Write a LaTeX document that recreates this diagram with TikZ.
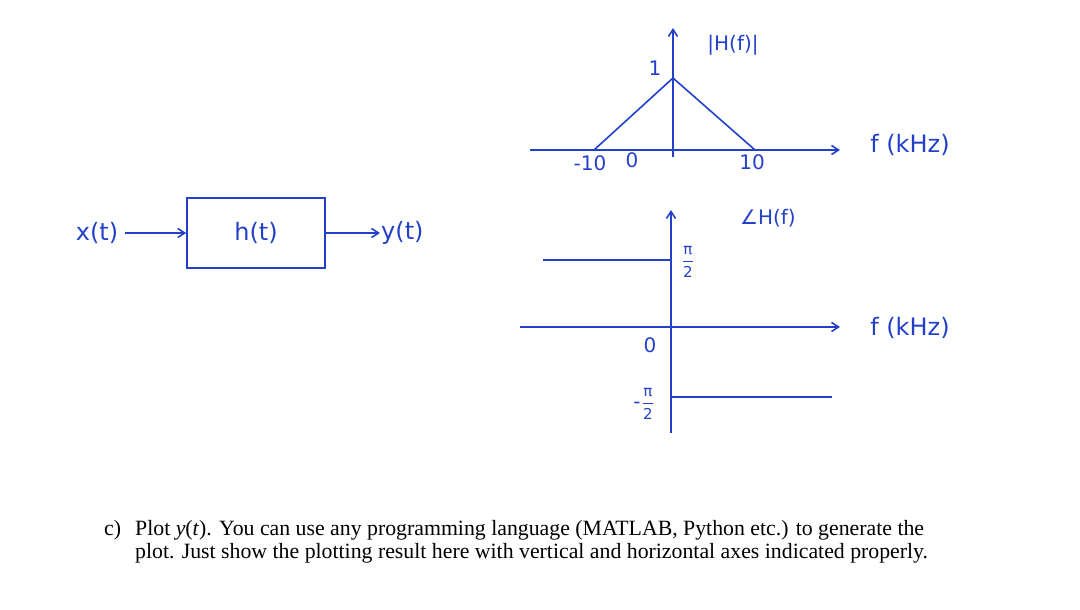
\documentclass[tikz,border=0pt]{standalone}
\usepackage{fontspec}
\setmainfont{Liberation Serif}
\newfontfamily\hand{DejaVu Sans}
\usetikzlibrary{arrows.meta}
\definecolor{ink}{RGB}{35,65,200}
\newcommand{\pihalf}{\begin{tabular}{@{}c@{}}π\\[-4pt]\rule[3pt]{10pt}{1.2pt}\\[-3pt]2\end{tabular}}
\begin{document}
\begin{tikzpicture}[x=1pt,y=-1pt,
  ln/.style={ink,line width=1.6pt},
  ax/.style={ink,line width=1.6pt,-{Straight Barb[length=7pt,width=9pt]}},
  lab/.style={ink,font=\hand\fontsize{20}{22}\selectfont,inner sep=1pt},
  big/.style={ink,font=\hand\fontsize{24}{26}\selectfont,inner sep=1pt},
  frac/.style={ink,font=\hand\fontsize{15}{15}\selectfont,inner sep=1pt},
  body/.style={font=\fontsize{21.8}{26}\selectfont,anchor=west,inner sep=0pt}]
\useasboundingbox (0,0) rectangle (1080,610);
% top plot
\coordinate (t0) at (530,150); \coordinate (t1) at (840,150);
\coordinate (v0) at (673,157); \coordinate (v1) at (673,28);
\draw[ax] (t0) -- (t1);
\draw[ax] (v0) -- (v1);
\coordinate (a) at (594,150); \coordinate (p) at (673,78); \coordinate (b) at (755,150);
\draw[ln] (a) -- (p) -- (b);
\node[lab] (one) at (655,68) {1};
\node[lab] (mag) at (733,45) {|H(f)|};
\node[lab] (m10) at (590,163) {-10};
\node[lab] (z1) at (632,160) {0};
\node[lab] (p10) at (752,162) {10};
\node[big] (f1) at (910,145) {f (kHz)};
% block
\node[big] (x) at (97,233) {x(t)};
\node[draw=ink,line width=1.6pt,minimum width=138pt,minimum height=70pt] (h) at (256,233) {};
\node[big] at (h) {h(t)};
\node[big,anchor=west] (y) at (380,233) {y(t)};
\draw[ax] (x.east)++(6,0) coordinate (xs) -- (h.west);
\draw[ax] (h.east) -- (y.west);
% bottom plot
\coordinate (w0) at (671,433); \coordinate (w1) at (671,210);
\coordinate (u0) at (520,327); \coordinate (u1) at (840,327);
\draw[ax] (u0) -- (u1);
\draw[ax] (w0) -- (w1);
\coordinate (l0) at (543,260); \coordinate (l1) at (671,260);
\coordinate (r0) at (671,397); \coordinate (r1) at (832,397);
\draw[ln] (l0) -- (l1);
\draw[ln] (r0) -- (r1);
\node[lab] (ang) at (768,218) {∠H(f)};
\node[frac] (pi2) at (688,263) {\pihalf};
\node[lab] (z2) at (650,345) {0};
\node[frac] (mpi2) at (648,405) {\pihalf};
\node[lab,anchor=east] (minus) at (mpi2.west) {-};
\node[big] (f2) at (910,328) {f (kHz)};
% text
\node[body] (c) at (104,530) {c)};
\node[body] (l1t) at (135,530) {Plot \textit{y}(\textit{t}). You can use any programming language (MATLAB, Python etc.) to generate the};
\node[body] (l2t) at (135,553) {plot. Just show the plotting result here with vertical and horizontal axes indicated properly.};
\end{tikzpicture}
\end{document}
